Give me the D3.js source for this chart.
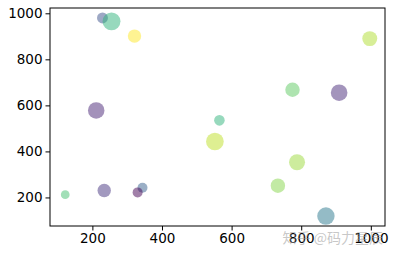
<!DOCTYPE html>
<html>
<head>
<meta charset="utf-8">
<script src="https://cdn.jsdelivr.net/npm/d3@7"></script>
<style>
  body { margin: 0; background: #fff; }
  svg { display: block; }
</style>
</head>
<body>
<figure id="chart" style="margin:0"></figure>
<script>
// scatter data
const xValues = [229, 255, 321, 211, 997, 775, 909, 565, 122, 234, 344, 330, 552, 788, 733, 871];
const yValues = [980, 965, 901, 578, 890, 668, 655, 535, 212, 230, 242, 222, 443, 353, 251, 119];
const colorValues = [0.25, 0.65, 1.0, 0.1, 0.88, 0.75, 0.12, 0.65, 0.7, 0.15, 0.3, 0.0, 0.9, 0.85, 0.82, 0.4];
const sizeValues = [30, 80, 45, 68, 56, 52, 69, 28, 19, 45, 25, 25, 78, 64, 52, 76];
const xTicks = [200, 400, 600, 800, 1000];
const yTicks = [200, 400, 600, 800, 1000];

const width = 394, height = 254;
const margin = { top: 8, right: 9, bottom: 28, left: 50 };

const svg = d3.select("figure#chart")
  .append("svg")
  .attr("width", width)
  .attr("height", height);

// matplotlib-like 5% padding around the data
const pad = ext => { const d = (ext[1] - ext[0]) * 0.05; return [ext[0] - d, ext[1] + d]; };

const x = d3.scaleLinear()
  .domain(pad(d3.extent(xValues)))
  .range([margin.left, width - margin.right]);

const y = d3.scaleLinear()
  .domain(pad(d3.extent(yValues)))
  .range([height - margin.bottom, margin.top]);

const r = d3.scaleSqrt().domain([0, 100]).range([0, 10]);
const c = d3.scaleSequential(d3.interpolateViridis).domain(d3.extent(colorValues));

const points = xValues.map((v, i) => ({ x: v, y: yValues[i], c: colorValues[i], s: sizeValues[i] }));

svg.append("g")
  .selectAll("circle")
  .data(points)
  .enter().append("circle")
  .attr("cx", d => x(d.x))
  .attr("cy", d => y(d.y))
  .attr("r", d => r(d.s))
  .attr("fill", d => c(d.c))
  .attr("fill-opacity", 0.5);

// axes
const xAxis = svg.append("g")
  .attr("transform", `translate(0,${height - margin.bottom})`)
  .call(d3.axisBottom(x).tickValues(xTicks).tickSize(4.5).tickPadding(3).tickFormat(d3.format("d")));

const yAxis = svg.append("g")
  .attr("transform", `translate(${margin.left},0)`)
  .call(d3.axisLeft(y).tickValues(yTicks).tickSize(4.5).tickPadding(3).tickFormat(d3.format("d")));

[xAxis, yAxis].forEach(g => {
  g.select(".domain").remove();
  g.selectAll("line").attr("stroke", "#000").attr("stroke-width", 1);
  g.selectAll("text")
    .attr("fill", "#000")
    .style("font-family", "DejaVu Sans")
    .style("font-size", "13.5px");
});

// frame
svg.append("rect")
  .attr("x", margin.left)
  .attr("y", margin.top)
  .attr("width", width - margin.left - margin.right)
  .attr("height", height - margin.top - margin.bottom)
  .attr("fill", "none")
  .attr("stroke", "#000")
  .attr("stroke-width", 1);

// watermark
svg.append("text")
  .attr("x", 383)
  .attr("y", 243)
  .attr("text-anchor", "end")
  .attr("fill", "#999")
  .attr("fill-opacity", 0.55)
  .style("font-family", "Noto Sans CJK SC")
  .style("font-size", "14px")
  .text("知乎 @码力星辰");
</script>
</body>
</html>
